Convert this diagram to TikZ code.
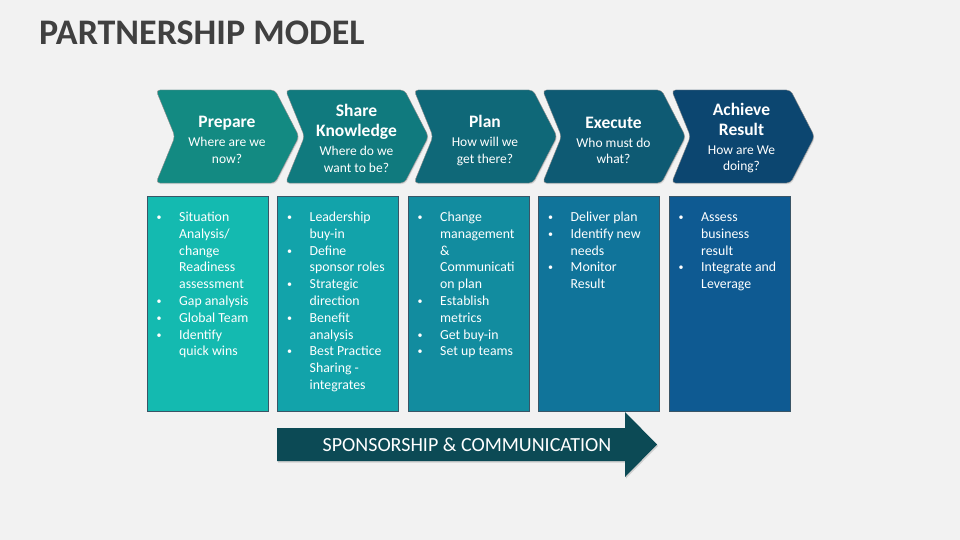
\documentclass[tikz,border=0pt]{standalone}
\usepackage{fontspec}
\setmainfont{Carlito}
\usetikzlibrary{shadows}
\definecolor{bg}{HTML}{F2F2F2}
\definecolor{ttl}{HTML}{404040}
\definecolor{cA}{HTML}{138A82}
\definecolor{cB}{HTML}{107A7E}
\definecolor{cC}{HTML}{0F6878}
\definecolor{cD}{HTML}{0E5A73}
\definecolor{cE}{HTML}{0C4670}
\definecolor{bA}{HTML}{14BAB0}
\definecolor{bB}{HTML}{12A3AA}
\definecolor{bC}{HTML}{128C9F}
\definecolor{bD}{HTML}{10749A}
\definecolor{bE}{HTML}{0E5A92}
\definecolor{arr}{HTML}{0C4A55}
\definecolor{edge}{HTML}{3A5566}
\tikzset{
  chev/.style={rounded corners=4pt, draw=black!45, line width=0.4pt,
    drop shadow={opacity=0.25, shadow xshift=0.8pt, shadow yshift=-1.2pt}},
  chevtext/.style={text=white, align=center, inner sep=0pt, font=\fontsize{13.5}{16.8}\selectfont},
  panel/.style={draw=edge, line width=0.8pt},
  paneltext/.style={text=white, anchor=north west, inner sep=0pt, font=\fontsize{13.8}{16.8}\selectfont},
}
\newcommand{\ctitle}[1]{{\fontsize{17.5}{20.5}\selectfont\bfseries #1}}
\newcommand{\bl}{\raisebox{1pt}{\fontsize{10}{10}\selectfont\textbullet}}
\begin{document}
\begin{tikzpicture}[x=1pt,y=-1pt]
\fill[bg] (0,0) rectangle (960,540);
\useasboundingbox (0,0) rectangle (960,540);
\node[anchor=base west, inner sep=0pt, text=ttl, font=\fontsize{36}{42}\selectfont\bfseries] (title) at (39,45) {PARTNERSHIP MODEL};

% chevrons
\foreach \L/\c/\n in {156/cA/1, 285.5/cB/2, 414/cC/3, 542.5/cD/4, 671.5/cE/5}{
  \path[chev, fill=\c] (\L,90) -- (\L+119,90) -- (\L+143,136.5) -- (\L+119,183) -- (\L,183) -- (\L+19,136.5) -- cycle;
}
\node[chevtext] (t1) at (227,140) {\ctitle{Prepare}\\[2pt]Where are we\\now?};
\node[chevtext] (t2) at (356.5,138) {\ctitle{Share}\\[3.5pt]\ctitle{Knowledge}\\[2pt]Where do we\\want to be?};
\node[chevtext] (t3) at (485,140.5) {\ctitle{Plan}\\[2pt]How will we\\get there?};
\node[chevtext] (t4) at (613.5,140.5) {\ctitle{Execute}\\[2pt]Who must do\\what?};
\node[chevtext] (t5) at (741.5,138) {\ctitle{Achieve}\\[3.5pt]\ctitle{Result}\\[2pt]How are We\\doing?};

% panels
\foreach \X/\c/\n in {147/bA/1, 277.5/bB/2, 408/bC/3, 538.5/bD/4, 669/bE/5}{
  \path[panel, fill=\c] (\X,196) rectangle (\X+121,411);
}
\node[paneltext] (p1) at (156.5,209.5) {\begin{tabular}{@{}p{22.5pt}@{}l@{}}
\bl & Situation\\ & Analysis/\\ & change\\ & Readiness\\ & assessment\\
\bl & Gap analysis\\ \bl & Global Team\\ \bl & Identify\\ & quick wins\end{tabular}};
\node[paneltext] (p2) at (287,209.5) {\begin{tabular}{@{}p{22.5pt}@{}l@{}}
\bl & Leadership\\ & buy-in\\ \bl & Define\\ & sponsor roles\\ \bl & Strategic\\ & direction\\
\bl & Benefit\\ & analysis\\ \bl & Best Practice\\ & Sharing -\\ & integrates\end{tabular}};
\node[paneltext] (p3) at (417.5,209.5) {\begin{tabular}{@{}p{22.5pt}@{}l@{}}
\bl & Change\\ & management\\ & \&\\ & Communicati\\ & on plan\\ \bl & Establish\\ & metrics\\
\bl & Get buy-in\\ \bl & Set up teams\end{tabular}};
\node[paneltext] (p4) at (548,209.5) {\begin{tabular}{@{}p{22.5pt}@{}l@{}}
\bl & Deliver plan\\ \bl & Identify new\\ & needs\\ \bl & Monitor\\ & Result\end{tabular}};
\node[paneltext] (p5) at (678.5,209.5) {\begin{tabular}{@{}p{22.5pt}@{}l@{}}
\bl & Assess\\ & business\\ & result\\ \bl & Integrate and\\ & Leverage\end{tabular}};

% bottom arrow
\path[fill=arr, drop shadow={opacity=0.3, shadow xshift=1pt, shadow yshift=-1.5pt}]
  (277,428) -- (625,428) -- (625,412) -- (657,444.5) -- (625,477) -- (625,461) -- (277,461) -- cycle;
\node[text=white, inner sep=0pt, font=\fontsize{20}{24}\selectfont] (arrtext) at (467,444.5) {SPONSORSHIP \& COMMUNICATION};
\end{tikzpicture}
\end{document}
